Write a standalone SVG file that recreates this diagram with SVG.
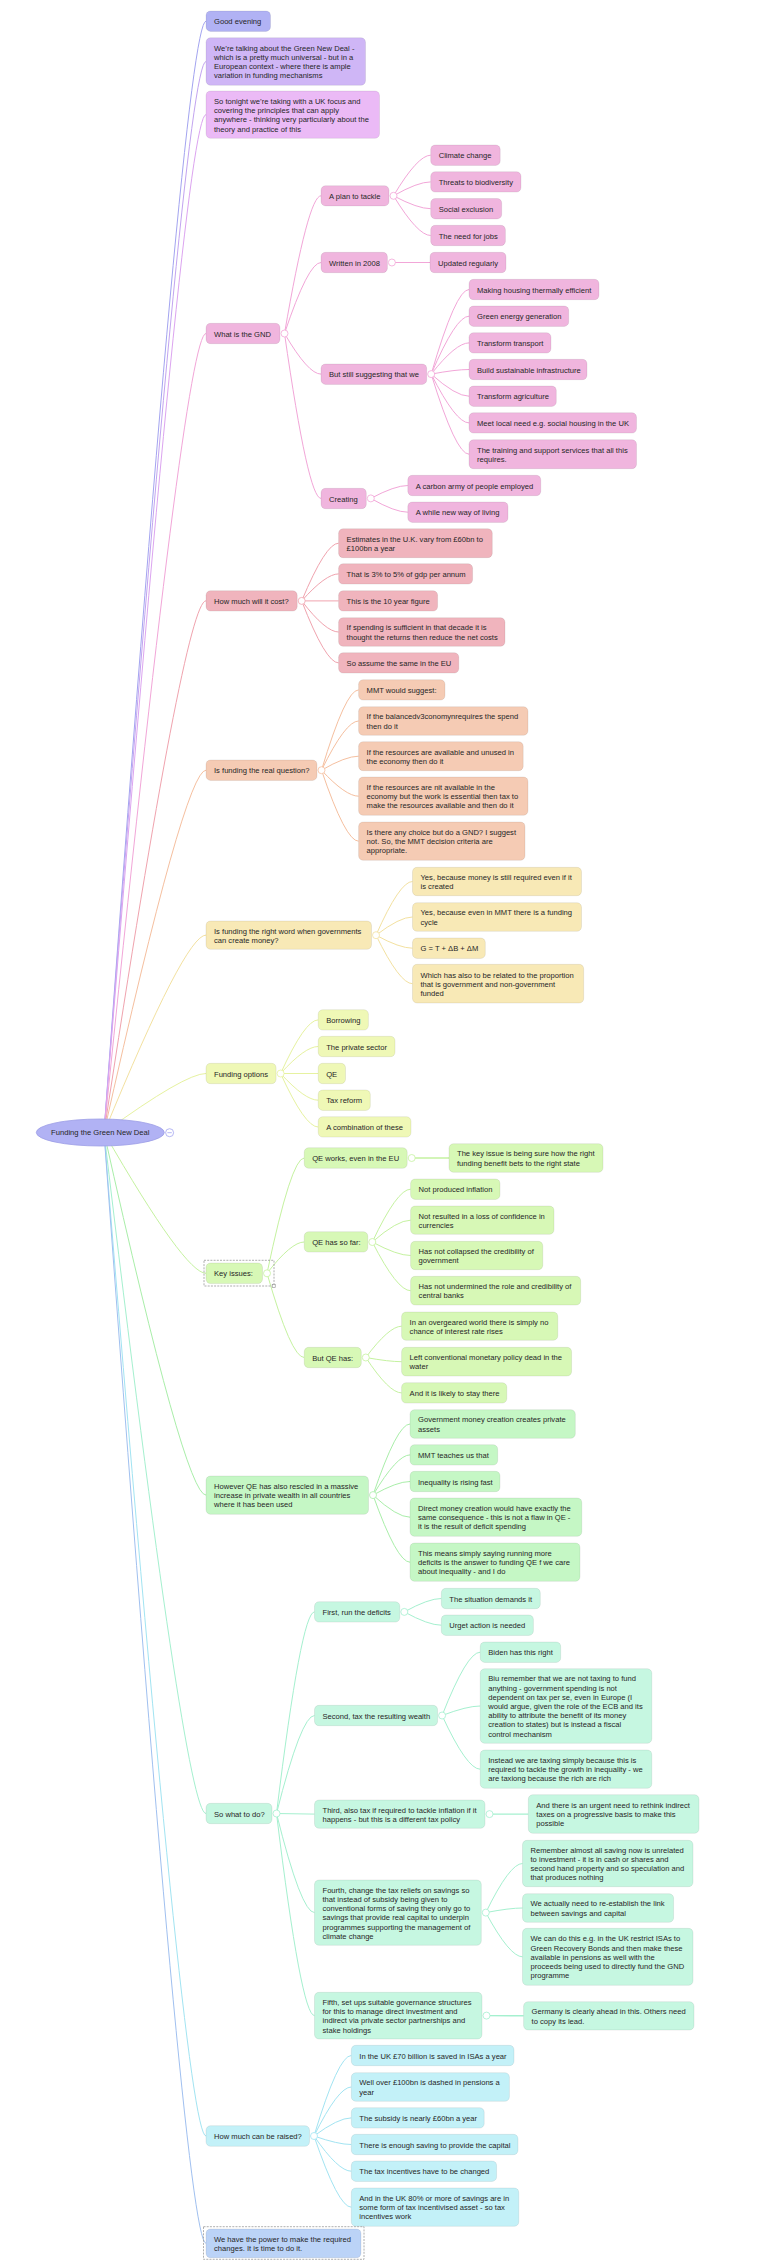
<svg xmlns="http://www.w3.org/2000/svg" width="758" height="2260" viewBox="0 0 758 2260">
<style>
text{font-family:"Liberation Sans",Arial,Helvetica,sans-serif;font-size:7.6px;fill:#262626}
.n rect{stroke:#000;stroke-opacity:.09;stroke-width:.8}
.good rect{fill:#b1b2f4}.talk rect{fill:#cfb6f6}.ton rect{fill:#ebbaf6}
.gnd rect{fill:#f0b5de}.cost rect{fill:#f0b4bd}.real rect{fill:#f5cbb4}
.word rect{fill:#f8e9b6}.opts rect{fill:#eff8b6}.key rect{fill:#d7f8b6}
.qe rect{fill:#c5f7c5}.do rect{fill:#c6f7e1}.raise rect{fill:#c3f1f8}.power rect{fill:#bbd3f7}
.n rect.sel{fill:none;stroke:#9a9a9a;stroke-opacity:1;stroke-width:.8;stroke-dasharray:2 1.2}
.n rect.hd{fill:#fff;stroke:#8a8a8a;stroke-opacity:1;stroke-width:.6}
#connectors path{fill:none;stroke-width:1}
.tg{fill:#fff;stroke-width:.8}
.l-good{stroke:#a3a4f0}.l-talk{stroke:#c2a4f0}.l-ton{stroke:#dca4f0}
.l-gnd{stroke:#f2a6d8}.l-cost{stroke:#f0a3ae}.l-real{stroke:#f5bf9f}
.l-word{stroke:#f3e1a0}.l-opts{stroke:#e6f2a0}.l-key{stroke:#c5f2a0}
.l-qe{stroke:#a9eea9}.l-do{stroke:#a5f0cf}.l-raise{stroke:#a2e4f2}.l-power{stroke:#a0c0f0}
</style>
<rect width="758" height="2260" fill="#fff"/>
<g id="connectors">
<path class="l-good" d="M104 1132.5Q185 21.2 206 21.2"/>
<path class="l-talk" d="M104 1132.5Q185 61.5 206 61.5"/>
<path class="l-ton" d="M104 1132.5Q185 114.6 206 114.6"/>
<path class="l-gnd" d="M104 1132.5Q185 333.5 206 333.5"/>
<path class="l-cost" d="M104 1132.5Q185 600.8 206 600.8"/>
<path class="l-real" d="M104 1132.5Q185 770.2 206 770.2"/>
<path class="l-word" d="M104 1132.5Q185 935.1 206 935.1"/>
<path class="l-opts" d="M104 1132.5Q185 1073.5 206 1073.5"/>
<path class="l-key" d="M104 1132.5Q185 1273.3 206 1273.3"/>
<path class="l-qe" d="M104 1132.5Q185 1495.1 206 1495.1"/>
<path class="l-do" d="M104 1132.5Q185 1813.5 206 1813.5"/>
<path class="l-raise" d="M104 1132.5Q185 2136 206 2136"/>
<path class="l-power" d="M104 1132.5Q185 2243.3 206 2243.3"/>
<g class="l-gnd">
<path d="M284.5 333.5Q308.2 195.8 321 195.8"/><path d="M284.5 333.5Q308.2 262.5 321 262.5"/><path d="M284.5 333.5Q308.2 374.1 321 374.1"/><path d="M284.5 333.5Q308.2 498.4 321 498.4"/>
<path d="M393.5 195.8Q417.7 155.2 430.7 155.2"/><path d="M393.5 195.8Q417.7 181.9 430.7 181.9"/><path d="M393.5 195.8Q417.7 208.7 430.7 208.7"/><path d="M393.5 195.8Q417.7 235.5 430.7 235.5"/>
<path d="M391.9 262.5L430 262.5"/>
<path d="M431.2 374.1Q455.8 289.5 469 289.5"/><path d="M431.2 374.1Q455.8 316.2 469 316.2"/><path d="M431.2 374.1Q455.8 342.9 469 342.9"/><path d="M431.2 374.1Q455.8 369.5 469 369.5"/><path d="M431.2 374.1Q455.8 396.2 469 396.2"/><path d="M431.2 374.1Q455.8 422.9 469 422.9"/><path d="M431.2 374.1Q455.8 454.2 469 454.2"/>
<path d="M370.8 498.4Q394.9 485.5 407.8 485.5"/><path d="M370.8 498.4Q394.9 512.2 407.8 512.2"/>
</g>
<g class="l-cost">
<path d="M301.7 600.9Q325.7 543.2 338.6 543.2"/><path d="M301.7 600.9Q325.7 573.9 338.6 573.9"/><path d="M301.7 600.9L338.6 600.9"/><path d="M301.7 600.9Q325.7 632 338.6 632"/><path d="M301.7 600.9Q325.7 662.9 338.6 662.9"/>
</g>
<g class="l-real">
<path d="M321.5 770.2Q345.6 689.9 358.6 689.9"/><path d="M321.5 770.2Q345.6 721 358.6 721"/><path d="M321.5 770.2Q345.6 756.2 358.6 756.2"/><path d="M321.5 770.2Q345.6 796.2 358.6 796.2"/><path d="M321.5 770.2Q345.6 841.2 358.6 841.2"/>
</g>
<g class="l-word">
<path d="M376 935.2Q399.7 881.5 412.5 881.5"/><path d="M376 935.2Q399.7 917 412.5 917"/><path d="M376 935.2Q399.7 948.2 412.5 948.2"/><path d="M376 935.2Q399.7 983.7 412.5 983.7"/>
</g>
<g class="l-opts">
<path d="M280.6 1073.5Q305 1019.9 318.2 1019.9"/><path d="M280.6 1073.5Q305 1046.5 318.2 1046.5"/><path d="M280.6 1073.5L318.2 1073.5"/><path d="M280.6 1073.5Q305 1100.2 318.2 1100.2"/><path d="M280.6 1073.5Q305 1127 318.2 1127"/>
</g>
<g class="l-key">
<path d="M267 1273.3Q291.2 1158 304.2 1158"/><path d="M267 1273.3Q291.2 1242 304.2 1242"/><path d="M267 1273.3Q291.2 1357.5 304.2 1357.5"/>
<path d="M411.7 1158L449 1158" style="stroke-width:1.6"/>
<path d="M372.3 1242Q397.2 1189.2 410.6 1189.2"/><path d="M372.3 1242Q397.2 1220.2 410.6 1220.2"/><path d="M372.3 1242Q397.2 1255.5 410.6 1255.5"/><path d="M372.3 1242Q397.2 1290.7 410.6 1290.7"/>
<path d="M365.8 1357.5Q389.1 1326.2 401.6 1326.2"/><path d="M365.8 1357.5Q389.1 1361.7 401.6 1361.7"/><path d="M365.8 1357.5Q389.1 1392.9 401.6 1392.9"/>
</g>
<g class="l-qe">
<path d="M373 1495.1Q397 1424 410 1424"/><path d="M373 1495.1Q397 1454.9 410 1454.9"/><path d="M373 1495.1Q397 1481.5 410 1481.5"/><path d="M373 1495.1Q397 1517.2 410 1517.2"/><path d="M373 1495.1Q397 1562.2 410 1562.2"/>
</g>
<g class="l-do">
<path d="M276.5 1813.5Q301.2 1611.9 314.5 1611.9"/><path d="M276.5 1813.5Q301.2 1715.5 314.5 1715.5"/><path d="M276.5 1813.5L314.5 1814.1"/><path d="M276.5 1813.5Q301.2 1912.6 314.5 1912.6"/><path d="M276.5 1813.5Q301.2 2015.6 314.5 2015.6"/>
<path d="M404.3 1611.9Q428.4 1598.5 441.3 1598.5"/><path d="M404.3 1611.9Q428.4 1625.2 441.3 1625.2"/>
<path d="M442.1 1715.5Q466.9 1652.2 480.2 1652.2"/><path d="M442.1 1715.5Q466.9 1706 480.2 1706"/><path d="M442.1 1715.5Q466.9 1769.2 480.2 1769.2"/>
<path d="M489.5 1814.1L528.3 1814.1" style="stroke-width:1.4"/>
<path d="M485.8 1912.6Q509.7 1863.5 522.5 1863.5"/><path d="M485.8 1912.6Q509.7 1908 522.5 1908"/><path d="M485.8 1912.6Q509.7 1956.8 522.5 1956.8"/>
<path d="M486.5 2015.6L523.6 2015.8" style="stroke-width:1.4"/>
</g>
<g class="l-raise">
<path d="M314 2136Q338.2 2055.5 351.3 2055.5"/><path d="M314 2136Q338.2 2087 351.3 2087"/><path d="M314 2136Q338.2 2117.9 351.3 2117.9"/><path d="M314 2136Q338.2 2144.5 351.3 2144.5"/><path d="M314 2136Q338.2 2171.2 351.3 2171.2"/><path d="M314 2136Q338.2 2207.2 351.3 2207.2"/>
</g>
<g id="toggles">
<circle class="tg l-gnd" cx="284.5" cy="333.5" r="3.5"/><circle class="tg l-gnd" cx="393.5" cy="195.8" r="3.5"/><circle class="tg l-gnd" cx="391.9" cy="262.5" r="3.5"/><circle class="tg l-gnd" cx="431.2" cy="374.1" r="3.5"/><circle class="tg l-gnd" cx="370.8" cy="498.4" r="3.5"/>
<circle class="tg l-cost" cx="301.7" cy="600.9" r="3.5"/>
<circle class="tg l-real" cx="321.5" cy="770.2" r="3.5"/>
<circle class="tg l-word" cx="376" cy="935.2" r="3.5"/>
<circle class="tg l-opts" cx="280.6" cy="1073.5" r="3.5"/>
<circle class="tg l-key" cx="267" cy="1273.3" r="3.5"/><circle class="tg l-key" cx="411.7" cy="1158" r="3.5"/><circle class="tg l-key" cx="372.3" cy="1242" r="3.5"/><circle class="tg l-key" cx="365.8" cy="1357.5" r="3.5"/>
<circle class="tg l-qe" cx="373" cy="1495.1" r="3.5"/>
<circle class="tg l-do" cx="276.5" cy="1813.5" r="3.5"/><circle class="tg l-do" cx="404.3" cy="1611.9" r="3.5"/><circle class="tg l-do" cx="442.1" cy="1715.5" r="3.5"/><circle class="tg l-do" cx="489.5" cy="1814.1" r="3.5"/><circle class="tg l-do" cx="485.8" cy="1912.6" r="3.5"/><circle class="tg l-do" cx="486.5" cy="2015.6" r="3.5"/>
<circle class="tg l-raise" cx="314" cy="2136" r="3.5"/>
</g>
</g>
<g id="root">
<ellipse cx="100.3" cy="1132.5" rx="64" ry="13.5" fill="#b1b2f4" stroke="#9d9ee6" stroke-width=".8"/>
<text x="100.3" y="1135.3" text-anchor="middle">Funding the Green New Deal</text>
<circle cx="169.6" cy="1132.7" r="4" fill="#fff" stroke="#a3a4f0" stroke-width=".8"/>
<path d="M167.4 1132.7H171.8" stroke="#a3a4f0" stroke-width=".8"/>
</g>
<g id="n-good" class="n good"><rect x="206" y="11" width="64.5" height="20.4" rx="4.5"/><text x="214" y="24.2">Good evening</text></g>
<g id="n-talk" class="n talk"><rect x="206" y="37.7" width="159.5" height="47.6" rx="4.5"/><text x="214" y="50.7">We’re talking about the Green New Deal -<tspan x="214" dy="9.2">which is a pretty much universal - but in a</tspan><tspan x="214" dy="9.2">European context - where there is ample</tspan><tspan x="214" dy="9.2">variation in funding mechanisms</tspan></text></g>
<g id="n-tonight" class="n ton"><rect x="206" y="91" width="173.5" height="47.3" rx="4.5"/><text x="214" y="103.9">So tonight we’re taking with a UK focus and<tspan x="214" dy="9.2">covering the principles that can apply</tspan><tspan x="214" dy="9.2">anywhere - thinking very particularly about the</tspan><tspan x="214" dy="9.2">theory and practice of this</tspan></text></g>

<g id="n-gnd" class="n gnd"><rect x="206" y="323.3" width="74" height="20.4" rx="4.5"/><text x="214" y="336.5">What is the GND</text></g>
<g id="n-plan" class="n gnd"><rect x="321" y="185.7" width="68" height="20.2" rx="4.5"/><text x="329" y="198.8">A plan to tackle</text></g>
<g id="n-climate" class="n gnd"><rect x="430.7" y="145" width="69.5" height="20.4" rx="4.5"/><text x="438.7" y="158.2">Climate change</text></g>
<g id="n-threats" class="n gnd"><rect x="430.7" y="171.7" width="90.3" height="20.4" rx="4.5"/><text x="438.7" y="184.9">Threats to biodiversity</text></g>
<g id="n-social" class="n gnd"><rect x="430.7" y="198.5" width="71" height="20.4" rx="4.5"/><text x="438.7" y="211.7">Social exclusion</text></g>
<g id="n-jobs" class="n gnd"><rect x="430.7" y="225.3" width="74.7" height="20.4" rx="4.5"/><text x="438.7" y="238.5">The need for jobs</text></g>
<g id="n-written" class="n gnd"><rect x="321" y="252.3" width="66.4" height="20.4" rx="4.5"/><text x="329" y="265.5">Written in 2008</text></g>
<g id="n-updated" class="n gnd"><rect x="430" y="252.3" width="76" height="20.4" rx="4.5"/><text x="438" y="265.5">Updated regularly</text></g>
<g id="n-butstill" class="n gnd"><rect x="321" y="364" width="105.7" height="20.4" rx="4.5"/><text x="329" y="377.2">But still suggesting that we</text></g>
<g id="n-making" class="n gnd"><rect x="469" y="279.3" width="130" height="20.4" rx="4.5"/><text x="477" y="292.5">Making housing thermally efficient</text></g>
<g id="n-greenenergy" class="n gnd"><rect x="469" y="306" width="99.7" height="20.4" rx="4.5"/><text x="477" y="319.2">Green energy generation</text></g>
<g id="n-transport" class="n gnd"><rect x="469" y="332.7" width="82" height="20.4" rx="4.5"/><text x="477" y="345.9">Transform transport</text></g>
<g id="n-build" class="n gnd"><rect x="469" y="359.3" width="118" height="20.4" rx="4.5"/><text x="477" y="372.5">Build sustainable infrastructure</text></g>
<g id="n-agri" class="n gnd"><rect x="469" y="386" width="87.3" height="20.4" rx="4.5"/><text x="477" y="399.2">Transform agriculture</text></g>
<g id="n-meet" class="n gnd"><rect x="469" y="412.7" width="167.5" height="20.4" rx="4.5"/><text x="477" y="425.9">Meet local need e.g. social housing in the UK</text></g>
<g id="n-training" class="n gnd"><rect x="469" y="439.7" width="167.5" height="29" rx="4.5"/><text x="477" y="452.6">The training and support services that all this<tspan x="477" dy="9.2">requires.</tspan></text></g>
<g id="n-creating" class="n gnd"><rect x="321" y="488.3" width="45.3" height="20.4" rx="4.5"/><text x="329" y="501.5">Creating</text></g>
<g id="n-carbon" class="n gnd"><rect x="407.8" y="475.3" width="133" height="20.4" rx="4.5"/><text x="415.8" y="488.5">A carbon army of people employed</text></g>
<g id="n-while" class="n gnd"><rect x="407.8" y="502" width="100.2" height="20.4" rx="4.5"/><text x="415.8" y="515.2">A while new way of living</text></g>

<g id="n-cost" class="n cost"><rect x="206" y="590.7" width="91.2" height="20.4" rx="4.5"/><text x="214" y="603.9">How much will it cost?</text></g>
<g id="n-estimates" class="n cost"><rect x="338.6" y="528.7" width="153.7" height="29" rx="4.5"/><text x="346.6" y="541.6">Estimates in the U.K. vary from £60bn to<tspan x="346.6" dy="9.2">£100bn a year</tspan></text></g>
<g id="n-thatis" class="n cost"><rect x="338.6" y="563.7" width="134" height="20.4" rx="4.5"/><text x="346.6" y="576.9">That is 3% to 5% of gdp per annum</text></g>
<g id="n-thisis" class="n cost"><rect x="338.6" y="590.7" width="99" height="20.4" rx="4.5"/><text x="346.6" y="603.9">This is the 10 year figure</text></g>
<g id="n-ifspend" class="n cost"><rect x="338.6" y="617.7" width="166.4" height="28.6" rx="4.5"/><text x="346.6" y="630.4">If spending is sufficient in that decade  it is<tspan x="346.6" dy="9.2">thought the returns then reduce the net costs</tspan></text></g>
<g id="n-soassume" class="n cost"><rect x="338.6" y="652.7" width="120.2" height="20.4" rx="4.5"/><text x="346.6" y="665.9">So assume the same in the EU</text></g>

<g id="n-real" class="n real"><rect x="206" y="760" width="111" height="20.4" rx="4.5"/><text x="214" y="773.2">Is funding the real question?</text></g>
<g id="n-mmt" class="n real"><rect x="358.6" y="679.7" width="86.4" height="20.4" rx="4.5"/><text x="366.6" y="692.9">MMT would suggest:</text></g>
<g id="n-balanced" class="n real"><rect x="358.6" y="706.7" width="169.4" height="28.6" rx="4.5"/><text x="366.6" y="719.4">If the balancedv3conomynrequires the spend<tspan x="366.6" dy="9.2">then do it</tspan></text></g>
<g id="n-avail" class="n real"><rect x="358.6" y="741.7" width="164.6" height="29" rx="4.5"/><text x="366.6" y="754.6">If the resources are available and unused in<tspan x="366.6" dy="9.2">the economy then do it</tspan></text></g>
<g id="n-nit" class="n real"><rect x="358.6" y="777" width="169.4" height="38.3" rx="4.5"/><text x="366.6" y="790">If the resources are nit available in the<tspan x="366.6" dy="9.2">economy but the work is essential then tax to</tspan><tspan x="366.6" dy="9.2">make the resources available and then do it</tspan></text></g>
<g id="n-choice" class="n real"><rect x="358.6" y="822" width="166.4" height="38.3" rx="4.5"/><text x="366.6" y="835">Is there any choice but do a GND? I suggest<tspan x="366.6" dy="9.2">not. So, the MMT decision criteria are</tspan><tspan x="366.6" dy="9.2">appropriate.</tspan></text></g>

<g id="n-word" class="n word"><rect x="206" y="921" width="165.5" height="28.3" rx="4.5"/><text x="214" y="933.6">Is funding the right word when governments<tspan x="214" dy="9.2">can create money?</tspan></text></g>
<g id="n-yesmoney" class="n word"><rect x="412.5" y="867.3" width="169" height="28.4" rx="4.5"/><text x="420.5" y="880.1">Yes, because money is still required even if it<tspan x="420.5" dy="9.2">is created</tspan></text></g>
<g id="n-yesmmt" class="n word"><rect x="412.5" y="902.7" width="169" height="28.6" rx="4.5"/><text x="420.5" y="915.4">Yes, because even in MMT there is a funding<tspan x="420.5" dy="9.2">cycle</tspan></text></g>
<g id="n-g" class="n word"><rect x="412.5" y="938" width="72.8" height="20.4" rx="4.5"/><text x="420.5" y="951.2">G = T + ΔB + ΔM</text></g>
<g id="n-which" class="n word"><rect x="412.5" y="964.3" width="171.2" height="38.7" rx="4.5"/><text x="420.5" y="977.5">Which has also to be related to the proportion<tspan x="420.5" dy="9.2">that is government and non-government</tspan><tspan x="420.5" dy="9.2">funded</tspan></text></g>

<g id="n-opts" class="n opts"><rect x="206" y="1063.3" width="70.1" height="20.4" rx="4.5"/><text x="214" y="1076.5">Funding options</text></g>
<g id="n-borrowing" class="n opts"><rect x="318.2" y="1009.7" width="50.2" height="20.4" rx="4.5"/><text x="326.2" y="1022.9">Borrowing</text></g>
<g id="n-private" class="n opts"><rect x="318.2" y="1036.3" width="76.8" height="20.4" rx="4.5"/><text x="326.2" y="1049.5">The private sector</text></g>
<g id="n-qeopt" class="n opts"><rect x="318.2" y="1063.3" width="27.3" height="20.4" rx="4.5"/><text x="326.2" y="1076.5">QE</text></g>
<g id="n-taxreform" class="n opts"><rect x="318.2" y="1090" width="52.1" height="20.4" rx="4.5"/><text x="326.2" y="1103.2">Tax reform</text></g>
<g id="n-combo" class="n opts"><rect x="318.2" y="1116.7" width="92.8" height="20.4" rx="4.5"/><text x="326.2" y="1129.9">A combination of these</text></g>

<g id="n-key" class="n key"><rect x="206" y="1263" width="56.5" height="20.6" rx="4.5"/><text x="214" y="1276.3">Key issues:</text><rect class="sel" x="204" y="1260.3" width="70" height="25.7"/><rect class="hd" x="272.2" y="1284.3" width="3" height="3"/></g>
<g id="n-qeworks" class="n key"><rect x="304.2" y="1147.7" width="103" height="20.6" rx="4.5"/><text x="312.2" y="1161">QE works, even in the EU</text></g>
<g id="n-keyissue" class="n key"><rect x="449" y="1143.7" width="154" height="28.6" rx="4.5"/><text x="457" y="1156.4">The key issue is being sure how the right<tspan x="457" dy="9.2">funding benefit bets to the right state</tspan></text></g>
<g id="n-qehas" class="n key"><rect x="304.2" y="1231.7" width="63.6" height="20.4" rx="4.5"/><text x="312.2" y="1244.9">QE has so far:</text></g>
<g id="n-notinfl" class="n key"><rect x="410.6" y="1179" width="89.4" height="20.4" rx="4.5"/><text x="418.6" y="1192.2">Not produced inflation</text></g>
<g id="n-notres" class="n key"><rect x="410.6" y="1206" width="143.4" height="28.3" rx="4.5"/><text x="418.6" y="1218.6">Not resulted in a loss of confidence in<tspan x="418.6" dy="9.2">currencies</tspan></text></g>
<g id="n-notcoll" class="n key"><rect x="410.6" y="1241.3" width="132.2" height="28.4" rx="4.5"/><text x="418.6" y="1253.8">Has not collapsed the credibility of<tspan x="418.6" dy="9.2">government</tspan></text></g>
<g id="n-notund" class="n key"><rect x="410.6" y="1276.3" width="170.1" height="28.7" rx="4.5"/><text x="418.6" y="1289.1">Has not undermined the role and credibility of<tspan x="418.6" dy="9.2">central banks</tspan></text></g>
<g id="n-butqe" class="n key"><rect x="304.2" y="1347.3" width="57.1" height="20.4" rx="4.5"/><text x="312.2" y="1360.5">But QE has:</text></g>
<g id="n-overgeared" class="n key"><rect x="401.6" y="1312" width="156.2" height="28.3" rx="4.5"/><text x="409.6" y="1324.6">In an overgeared world there is simply no<tspan x="409.6" dy="9.2">chance of interest rate rises</tspan></text></g>
<g id="n-leftconv" class="n key"><rect x="401.6" y="1347.3" width="170" height="28.7" rx="4.5"/><text x="409.6" y="1360.1">Left conventional monetary policy dead in the<tspan x="409.6" dy="9.2">water</tspan></text></g>
<g id="n-stay" class="n key"><rect x="401.6" y="1382.7" width="105.2" height="20.4" rx="4.5"/><text x="409.6" y="1395.9">And it is likely to stay there</text></g>

<g id="n-qe" class="n qe"><rect x="206" y="1476" width="162.5" height="38.3" rx="4.5"/><text x="214" y="1489">However QE has also rescled in a massive<tspan x="214" dy="9.2">increase in private wealth in all countries</tspan><tspan x="214" dy="9.2">where it has been used</tspan></text></g>
<g id="n-govmoney" class="n qe"><rect x="410" y="1409.7" width="165.3" height="28.6" rx="4.5"/><text x="418" y="1422.4">Government money creation creates private<tspan x="418" dy="9.2">assets</tspan></text></g>
<g id="n-mmtteach" class="n qe"><rect x="410" y="1444.7" width="87.7" height="20.4" rx="4.5"/><text x="418" y="1457.9">MMT teaches us that</text></g>
<g id="n-ineq" class="n qe"><rect x="410" y="1471.3" width="90" height="20.4" rx="4.5"/><text x="418" y="1484.5">Inequality is rising fast</text></g>
<g id="n-direct" class="n qe"><rect x="410" y="1498" width="171.8" height="38.3" rx="4.5"/><text x="418" y="1511">Direct money creation would have exactly the<tspan x="418" dy="9.2">same consequence  - this is not a flaw in QE -</tspan><tspan x="418" dy="9.2">it is the result of deficit spending</tspan></text></g>
<g id="n-thismeans" class="n qe"><rect x="410" y="1543" width="170" height="38.3" rx="4.5"/><text x="418" y="1556">This means simply saying running more<tspan x="418" dy="9.2">deficits is the answer to funding QE f we care</tspan><tspan x="418" dy="9.2">about inequality - and I do</tspan></text></g>

<g id="n-do" class="n do"><rect x="206" y="1803.3" width="66" height="20.4" rx="4.5"/><text x="214" y="1816.5">So what to do?</text></g>
<g id="n-first" class="n do"><rect x="314.5" y="1601.7" width="85.3" height="20.4" rx="4.5"/><text x="322.5" y="1614.9">First, run the deficits</text></g>
<g id="n-situation" class="n do"><rect x="441.3" y="1588.3" width="99" height="20.4" rx="4.5"/><text x="449.3" y="1601.5">The situation demands it</text></g>
<g id="n-urget" class="n do"><rect x="441.3" y="1615" width="92.1" height="20.4" rx="4.5"/><text x="449.3" y="1628.2">Urget action is needed</text></g>
<g id="n-second" class="n do"><rect x="314.5" y="1705.3" width="123.1" height="20.4" rx="4.5"/><text x="322.5" y="1718.5">Second, tax the resulting wealth</text></g>
<g id="n-biden" class="n do"><rect x="480.2" y="1642" width="80.5" height="20.4" rx="4.5"/><text x="488.2" y="1655.2">Biden has this right</text></g>
<g id="n-biu" class="n do"><rect x="480.2" y="1668.7" width="171.6" height="74.6" rx="4.5"/><text x="488.2" y="1681.4">Biu remember that we are not taxing to fund<tspan x="488.2" dy="9.2">anything - government spending is not</tspan><tspan x="488.2" dy="9.2">dependent on tax per se, even in Europe (I</tspan><tspan x="488.2" dy="9.2">would argue, given the role of the ECB and its</tspan><tspan x="488.2" dy="9.2">ability to attribute the benefit of its money</tspan><tspan x="488.2" dy="9.2">creation to states) but is instead a fiscal</tspan><tspan x="488.2" dy="9.2">control mechanism</tspan></text></g>
<g id="n-instead" class="n do"><rect x="480.2" y="1750" width="171.6" height="38.3" rx="4.5"/><text x="488.2" y="1763">Instead we are taxing simply because this is<tspan x="488.2" dy="9.2">required to tackle the growth in inequality - we</tspan><tspan x="488.2" dy="9.2">are taxiong because the rich are rich</tspan></text></g>
<g id="n-third" class="n do"><rect x="314.5" y="1800" width="170.5" height="28.3" rx="4.5"/><text x="322.5" y="1812.6">Third, also tax if required to tackle inflation if it<tspan x="322.5" dy="9.2">happens - but this is a different tax policy</tspan></text></g>
<g id="n-urgent" class="n do"><rect x="528.3" y="1794.7" width="170.7" height="38.6" rx="4.5"/><text x="536.3" y="1807.8">And there is an urgent need to rethink indirect<tspan x="536.3" dy="9.2">taxes on a progressive basis to make this</tspan><tspan x="536.3" dy="9.2">possible</tspan></text></g>
<g id="n-fourth" class="n do"><rect x="314.5" y="1880" width="166.8" height="65.3" rx="4.5"/><text x="322.5" y="1892.7">Fourth, change the tax reliefs on savings so<tspan x="322.5" dy="9.2">that instead of subsidy being given to</tspan><tspan x="322.5" dy="9.2">conventional forms of saving they only go to</tspan><tspan x="322.5" dy="9.2">savings that provide real capital to underpin</tspan><tspan x="322.5" dy="9.2">programmes supporting the management of</tspan><tspan x="322.5" dy="9.2">climate change</tspan></text></g>
<g id="n-remember" class="n do"><rect x="522.5" y="1840.3" width="170.5" height="46.4" rx="4.5"/><text x="530.5" y="1852.7">Remember almost all saving now is unrelated<tspan x="530.5" dy="9.2">to investment - it is in cash or shares and</tspan><tspan x="530.5" dy="9.2">second hand property and so speculation and</tspan><tspan x="530.5" dy="9.2">that produces nothing</tspan></text></g>
<g id="n-actually" class="n do"><rect x="522.5" y="1893.7" width="151.1" height="28.6" rx="4.5"/><text x="530.5" y="1906.4">We actually need to re-establish the link<tspan x="530.5" dy="9.2">between savings and capital</tspan></text></g>
<g id="n-wecan" class="n do"><rect x="522.5" y="1928.3" width="170.5" height="57" rx="4.5"/><text x="530.5" y="1941.4">We can do this e.g. in the UK restrict ISAs to<tspan x="530.5" dy="9.2">Green Recovery Bonds and then make these</tspan><tspan x="530.5" dy="9.2">available in pensions as well with the</tspan><tspan x="530.5" dy="9.2">proceeds being used to directly fund the GND</tspan><tspan x="530.5" dy="9.2">programme</tspan></text></g>
<g id="n-fifth" class="n do"><rect x="314.5" y="1992.3" width="167.5" height="46.7" rx="4.5"/><text x="322.5" y="2004.9">Fifth, set ups suitable governance structures<tspan x="322.5" dy="9.2">for this to manage direct investment and</tspan><tspan x="322.5" dy="9.2">indirect via private sector partnerships and</tspan><tspan x="322.5" dy="9.2">stake holdings</tspan></text></g>
<g id="n-germany" class="n do"><rect x="523.6" y="2001.7" width="170.4" height="28.3" rx="4.5"/><text x="531.6" y="2014.3">Germany is clearly ahead in this. Others need<tspan x="531.6" dy="9.2">to copy its lead.</tspan></text></g>

<g id="n-raise" class="n raise"><rect x="206" y="2125.7" width="103.5" height="20.6" rx="4.5"/><text x="214" y="2139">How much can be raised?</text></g>
<g id="n-isa" class="n raise"><rect x="351.3" y="2045.3" width="162.7" height="20.4" rx="4.5"/><text x="359.3" y="2058.5">In the UK £70 billion is saved in ISAs a year</text></g>
<g id="n-wellover" class="n raise"><rect x="351.3" y="2072.7" width="158.1" height="28.6" rx="4.5"/><text x="359.3" y="2085.4">Well over £100bn is dashed in pensions a<tspan x="359.3" dy="9.2">year</tspan></text></g>
<g id="n-subsidy" class="n raise"><rect x="351.3" y="2107.7" width="132.9" height="20.4" rx="4.5"/><text x="359.3" y="2120.9">The subsidy is nearly £60bn a year</text></g>
<g id="n-enough" class="n raise"><rect x="351.3" y="2134.3" width="166.7" height="20.4" rx="4.5"/><text x="359.3" y="2147.5">There is enough saving to provide the capital</text></g>
<g id="n-taxinc" class="n raise"><rect x="351.3" y="2161" width="145.3" height="20.4" rx="4.5"/><text x="359.3" y="2174.2">The tax incentives have to be changed</text></g>
<g id="n-andinuk" class="n raise"><rect x="351.3" y="2188" width="167.5" height="38.3" rx="4.5"/><text x="359.3" y="2201">And in the UK 80% or more of savings are in<tspan x="359.3" dy="9.2">some form of tax incentivised asset - so tax</tspan><tspan x="359.3" dy="9.2">incentives work</tspan></text></g>

<g id="n-power" class="n power"><rect x="206" y="2229" width="155" height="28.7" rx="4.5"/><text x="214" y="2241.8">We have the power to make the required<tspan x="214" dy="9.2">changes. It is time to do it.</tspan></text><rect class="sel" x="203.5" y="2226.7" width="160.5" height="32.6"/></g>
</svg>
